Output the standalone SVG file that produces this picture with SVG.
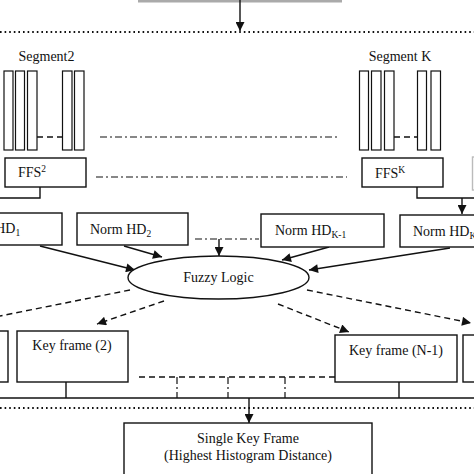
<svg xmlns="http://www.w3.org/2000/svg" width="474" height="474" viewBox="0 0 474 474">
<style>
.box{fill:#fff;stroke:#111;stroke-width:1.4}
.fr{fill:#fff;stroke:#111;stroke-width:1.2}
.ln{fill:none;stroke:#111;stroke-width:1.4}
.dot{fill:none;stroke:#111;stroke-width:2;stroke-dasharray:1.6 3}
.dd{fill:none;stroke:#111;stroke-width:1.2;stroke-dasharray:7 3 2 3}
.dash{fill:none;stroke:#111;stroke-width:1.4;stroke-dasharray:6 4}
.t{font-family:"Liberation Serif","Times New Roman",serif;font-size:14px;fill:#111}
.s{font-size:9.5px}
</style>
<defs>
<marker id="ah" viewBox="0 0 10 10" refX="10" refY="5" markerWidth="11" markerHeight="9" orient="auto" markerUnits="userSpaceOnUse"><path d="M0,0 L10,5 L0,10 z" fill="#111"/></marker>
</defs>
<rect x="0" y="0" width="474" height="474" fill="#fff"/>

<g id="connectors">
<line x1="138" y1="1" x2="342" y2="1" stroke="#aaa" stroke-width="3"/>
<line class="ln" x1="240" y1="0" x2="240" y2="31" marker-end="url(#ah)"/>
<line class="dot" x1="0" y1="32" x2="474" y2="32"/>
<line class="dash" x1="37" y1="137" x2="62" y2="137"/>
<line class="dash" x1="394" y1="137" x2="417" y2="137"/>
<line class="dd" x1="100" y1="137" x2="338" y2="137"/>
<line class="dd" x1="96" y1="177" x2="347" y2="177"/>
<polyline class="ln" points="40,187 40,198 0,198"/>
<polyline class="ln" points="417,187 417,198 474,198"/>
<line class="ln" x1="462" y1="198" x2="462" y2="214" marker-end="url(#ah)"/>
<line class="dd" x1="195" y1="239" x2="259" y2="239"/>
<line class="ln" x1="219" y1="239" x2="219" y2="256" marker-end="url(#ah)"/>
<line class="ln" x1="40" y1="246" x2="135" y2="270" marker-end="url(#ah)"/>
<line class="ln" x1="124" y1="246" x2="162" y2="257" marker-end="url(#ah)"/>
<line class="ln" x1="329" y1="247" x2="282" y2="260" marker-end="url(#ah)"/>
<line class="ln" x1="450" y1="248" x2="309" y2="270" marker-end="url(#ah)"/>
<line class="dash" x1="130" y1="290" x2="0" y2="316"/>
<line class="dash" x1="164" y1="301" x2="97" y2="324" marker-end="url(#ah)"/>
<line class="dash" x1="307" y1="290" x2="471" y2="323" marker-end="url(#ah)"/>
<line class="dash" x1="278" y1="304" x2="349" y2="332" marker-end="url(#ah)"/>
<line class="dash" x1="139" y1="377" x2="335" y2="377"/>
<line class="dd" x1="177" y1="377" x2="177" y2="398"/>
<line class="dd" x1="228" y1="377" x2="228" y2="398"/>
<line class="dd" x1="285" y1="377" x2="285" y2="398"/>
<line class="ln" x1="66" y1="382" x2="66" y2="398"/>
<line class="ln" x1="399" y1="382" x2="399" y2="398"/>
<line class="ln" x1="0" y1="398" x2="474" y2="398"/>
<line class="dot" x1="0" y1="408" x2="474" y2="408"/>
<line class="ln" x1="249" y1="398" x2="249" y2="423" marker-end="url(#ah)"/>
</g>

<g id="segment2">
<text class="t" x="46.5" y="61" text-anchor="middle">Segment2</text>
<rect class="fr" x="4" y="71" width="9" height="79"/>
<rect class="fr" x="15.5" y="71" width="9" height="79"/>
<rect class="fr" x="27.5" y="71" width="9.5" height="79"/>
<rect class="fr" x="62.5" y="71" width="9.5" height="79"/>
<rect class="fr" x="74.5" y="71" width="9.5" height="79"/>
</g>

<g id="segmentK">
<text class="t" x="400" y="61" text-anchor="middle">Segment K</text>
<rect class="fr" x="359.5" y="71" width="9" height="79"/>
<rect class="fr" x="371.5" y="71" width="9.5" height="79"/>
<rect class="fr" x="384.5" y="71" width="9.5" height="79"/>
<rect class="fr" x="417.5" y="71" width="9" height="79"/>
<rect class="fr" x="431" y="71" width="9.5" height="79"/>
</g>

<g id="ffs2">
<rect class="box" x="5" y="158" width="81" height="29"/>
<text class="t" x="18" y="177">FFS<tspan class="s" dy="-5">2</tspan></text>
</g>

<g id="ffsK">
<rect class="box" x="362" y="158" width="81" height="29"/>
<text class="t" x="375" y="178">FFS<tspan class="s" dy="-5">K</tspan></text>
</g>

<g id="ffs-next">
<rect x="472.5" y="157" width="10" height="33" fill="#fff" stroke="#bbb" stroke-width="1.4"/>
</g>

<g id="hd1">
<rect class="box" x="-20" y="213" width="82" height="32"/>
<text class="t" x="-41" y="233">Norm HD<tspan class="s" dy="3">1</tspan></text>
</g>

<g id="hd2">
<rect class="box" x="77" y="213" width="111" height="32"/>
<text class="t" x="90" y="234">Norm HD<tspan class="s" dy="3">2</tspan></text>
</g>

<g id="hdK1">
<rect class="box" x="261" y="214" width="123" height="33"/>
<text class="t" x="275" y="235">Norm HD<tspan class="s" dy="3">K-1</tspan></text>
</g>

<g id="hdK">
<rect class="box" x="400" y="215" width="90" height="32"/>
<text class="t" x="413" y="236">Norm HD<tspan class="s" dy="3">K</tspan></text>
</g>

<g id="fuzzy">
<ellipse class="box" cx="218.5" cy="277.5" rx="90.5" ry="21.5"/>
<text class="t" x="218.5" y="282" text-anchor="middle">Fuzzy Logic</text>
</g>

<g id="kf1">
<rect class="box" x="-40" y="331" width="48" height="51"/>
</g>

<g id="kf2">
<rect class="box" x="17" y="331" width="111" height="51"/>
<text class="t" x="72" y="350" text-anchor="middle">Key frame (2)</text>
</g>

<g id="kfN1">
<rect class="box" x="335" y="335" width="122" height="47"/>
<text class="t" x="396" y="355" text-anchor="middle">Key frame (N-1)</text>
</g>

<g id="kfN">
<rect class="box" x="463" y="335" width="40" height="47"/>
</g>

<g id="single">
<rect class="box" x="124" y="423" width="248" height="70"/>
<text class="t" x="248" y="443" text-anchor="middle">Single Key Frame</text>
<text class="t" x="248" y="460" text-anchor="middle">(Highest Histogram Distance)</text>
</g>
</svg>
